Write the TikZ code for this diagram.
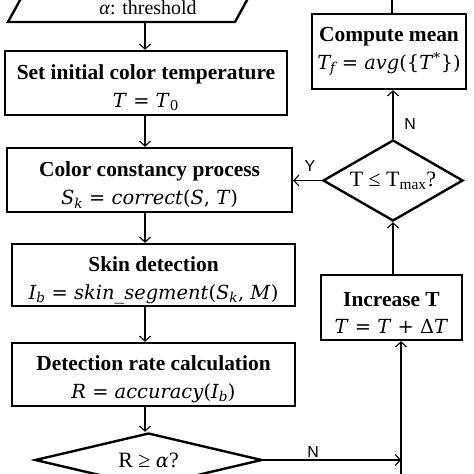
\documentclass[tikz,border=0pt]{standalone}
\usepackage{fontspec}
\setmainfont{Liberation Serif}
\newfontfamily\lblfont{Liberation Sans}
\newfontfamily\mfont{DejaVu Serif}
\usetikzlibrary{shapes.geometric,arrows.meta}
\newcommand\vv[1]{\textit{#1}}
\newcommand\mm[1]{{\mfont\fontsize{19.5}{28}\selectfont #1}}
\newcommand\sbs[1]{\textsubscript{#1}}
\newcommand\dn{\rule{0pt}{25pt}}
\tikzset{
  box/.style={draw, line width=2.4bp, inner sep=0pt, align=center,
    font=\fontsize{21.5}{28}\selectfont},
  dec/.style={draw, diamond, line width=2.4bp, inner sep=0pt,
    font=\fontsize{22}{26}\selectfont},
  conn/.style={line width=1.1bp, -{Straight Barb[length=5bp,width=11bp,line width=1.1bp]}},
  plain/.style={line width=1.1bp},
  lbl/.style={font=\lblfont\fontsize{16}{18}\selectfont, inner sep=0pt}
}
\begin{document}
\begin{tikzpicture}[x=1bp,y=-1bp]
\useasboundingbox (0,0) rectangle (474,474);
\clip (0,0) rectangle (474,474);
% input parallelogram
\draw[line width=2.4bp] (8,22) -- (235,22) -- (269,-40) -- (42,-40) -- cycle;
\node[font=\fontsize{20}{24}\selectfont, inner sep=0pt] (inp) at (148,7.5) {\vv{α}: threshold};
\coordinate (inpb) at (145,22);
\coordinate (colx) at (145,0);
% left column
\node[box, minimum width=282bp, minimum height=64bp] (b1) at (146,83)
  {\dn\textbf{Set initial color temperature}\\ \mm{\vv{T} = \vv{T}\sbs{0}}};
\node[box, minimum width=285bp, minimum height=64bp] (b2) at (149.5,180)
  {\dn\textbf{Color constancy process}\\ \mm{\vv{S\sbs{k}} = \vv{correct}(\vv{S}, \vv{T})}};
\node[box, minimum width=283bp, minimum height=62bp] (b3) at (153.5,275)
  {\dn\textbf{Skin detection}\\ \mm{\vv{I\sbs{b}} = \vv{skin\_segment}(\vv{S\sbs{k}}, \vv{M})}};
\node[box, minimum width=283bp, minimum height=63bp] (b4) at (153.5,374.5)
  {\dn\textbf{Detection rate calculation}\\ \mm{\vv{R} = \vv{accuracy}(\vv{I\sbs{b}})}};
\node[dec, minimum width=227bp, minimum height=54bp, aspect=4.2] (d2) at (148.5,460)
  {R ≥ \mm{\vv{α}}?};
% right column
\node[box, minimum width=154bp, minimum height=75bp] (cm) at (389,51.5)
  {\textbf{Compute mean}\\ \mm{\vv{T\sbs{f}} = \vv{avg}(\{\vv{T}\textsuperscript{*}\})}};
\node[dec, minimum width=140bp, minimum height=81bp, aspect=1.73] (d1) at (393,180.5)
  {T ≤ T\sbs{max}?};
\node[box, minimum width=141bp, minimum height=65bp] (inc) at (391.5,307.5)
  {\dn\textbf{Increase T}\\ \mm{\vv{T} = \vv{T} + Δ\vv{T}}};
\coordinate (top) at (392,-5);
\coordinate (nj) at (401,460);
\coordinate (nb) at (401,480);
% connectors
\draw[conn] (inpb) -- (b1.north -| colx);
\draw[conn] (b1.south -| colx) -- (b2.north -| colx);
\draw[conn] (b2.south -| colx) -- (b3.north -| colx);
\draw[conn] (b3.south -| colx) -- (b4.north -| colx);
\draw[conn] (b4.south -| colx) -- (d2.north -| colx);
\draw[conn] (d2.east) -- (nj);
\draw[conn] (nb) -- (inc.south -| nj);
\draw[conn] (inc.north -| d1.south) -- (d1.south);
\draw[conn] (d1.north) -- (cm.south -| d1.north);
\draw[conn] (d1.west) -- (b2.east |- d1.west);
\draw[plain] (top) -- (cm.north -| top);
% labels
\node[lbl] (ly) at (310,166) {Y};
\node[lbl] (ln1) at (410,124) {N};
\node[lbl] (ln2) at (313,452) {N};
\end{tikzpicture}
\end{document}
